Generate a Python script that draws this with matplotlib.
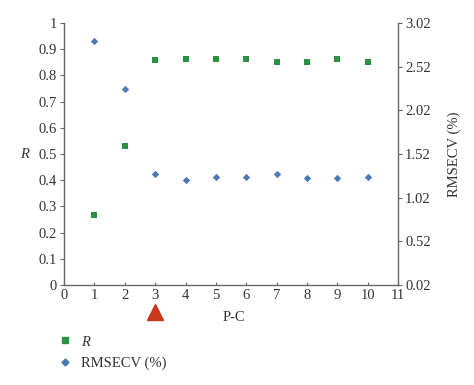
import matplotlib
matplotlib.use("Agg")
import matplotlib.pyplot as plt
from matplotlib.lines import Line2D

pc = [1, 2, 3, 4, 5, 6, 7, 8, 9, 10]
r_values = [0.267, 0.530, 0.859, 0.861, 0.861, 0.861, 0.851, 0.851, 0.864, 0.851]
rmsecv_values = [2.82, 2.26, 1.287, 1.226, 1.257, 1.254, 1.295, 1.25, 1.25, 1.254]
left_ticks = [0, 0.1, 0.2, 0.3, 0.4, 0.5, 0.6, 0.7, 0.8, 0.9, 1]
left_labels = ["0", "0.1", "0.2", "0.3", "0.4", "0.5", "0.6", "0.7", "0.8", "0.9", "1"]
right_ticks = [0.02, 0.52, 1.02, 1.52, 2.02, 2.52, 3.02]
x_ticks = list(range(0, 12))
selected_pc = 3

plt.rcParams['font.family'] = ['Liberation Serif', 'DejaVu Serif']
text_color = '#333333'
green = '#2a9142'
blue = '#4a78b5'
spine_color = '#666666'
fs = 10.5

fig = plt.figure(figsize=(4.74, 3.85), dpi=100)
ax = fig.add_axes([0.135, 0.26, 0.705, 0.68])
ax2 = ax.twinx()

ax.scatter(pc, r_values, marker='s', s=22, color=green, zorder=3, linewidths=0)
ax2.scatter(pc, rmsecv_values, marker='D', s=14, color=blue, zorder=3, linewidths=0)

ax.set_xlim(0, 11)
ax.set_ylim(0, 1)
ax2.set_ylim(0.02, 3.02)
ax.set_xticks(x_ticks)
ax.set_yticks(left_ticks)
ax.set_yticklabels(left_labels)
ax2.set_yticks(right_ticks)
ax2.set_yticklabels([f"{v:.2f}" for v in right_ticks])

for a in (ax, ax2):
    a.spines['top'].set_visible(False)
    for s in ('left', 'right', 'bottom'):
        a.spines[s].set_color(spine_color)
        a.spines[s].set_linewidth(1.0)
ax.spines['right'].set_visible(False)
ax2.spines['left'].set_visible(False)
ax2.spines['bottom'].set_visible(False)

ax.tick_params(axis='y', direction='out', length=3, color=spine_color, labelsize=fs, labelcolor=text_color, pad=2)
ax.tick_params(axis='x', direction='in', length=2.5, color=spine_color, labelsize=fs, labelcolor=text_color, pad=3)
ax2.tick_params(axis='y', direction='out', length=3, color=spine_color, labelsize=fs, labelcolor=text_color, pad=2)

ax.set_ylabel('R', fontstyle='italic', rotation=0, fontsize=fs, color=text_color, labelpad=10, va='center')
ax2.set_ylabel('RMSECV (%)', fontsize=fs, color=text_color, labelpad=12)
ax.set_xlabel('P-C', fontsize=fs, color=text_color)
ax.xaxis.set_label_coords(0.51, -0.10)

# marker for selected principal component
ax.plot([selected_pc], [-0.105], marker='^', markersize=11, color='#c8361b', clip_on=False, zorder=5)

handles = [
    Line2D([], [], marker='s', linestyle='none', color=green, markersize=4.5),
    Line2D([], [], marker='D', linestyle='none', color=blue, markersize=3.5),
]
leg = fig.legend(handles, ['R', 'RMSECV (%)'], loc='upper left', bbox_to_anchor=(0.095, 0.163),
                 frameon=False, fontsize=fs, handlelength=1.0, handletextpad=0.6, labelspacing=0.55)
texts = leg.get_texts()
texts[0].set_fontstyle('italic')
for t in texts:
    t.set_color(text_color)

fig.savefig('out.png', dpi=100)
